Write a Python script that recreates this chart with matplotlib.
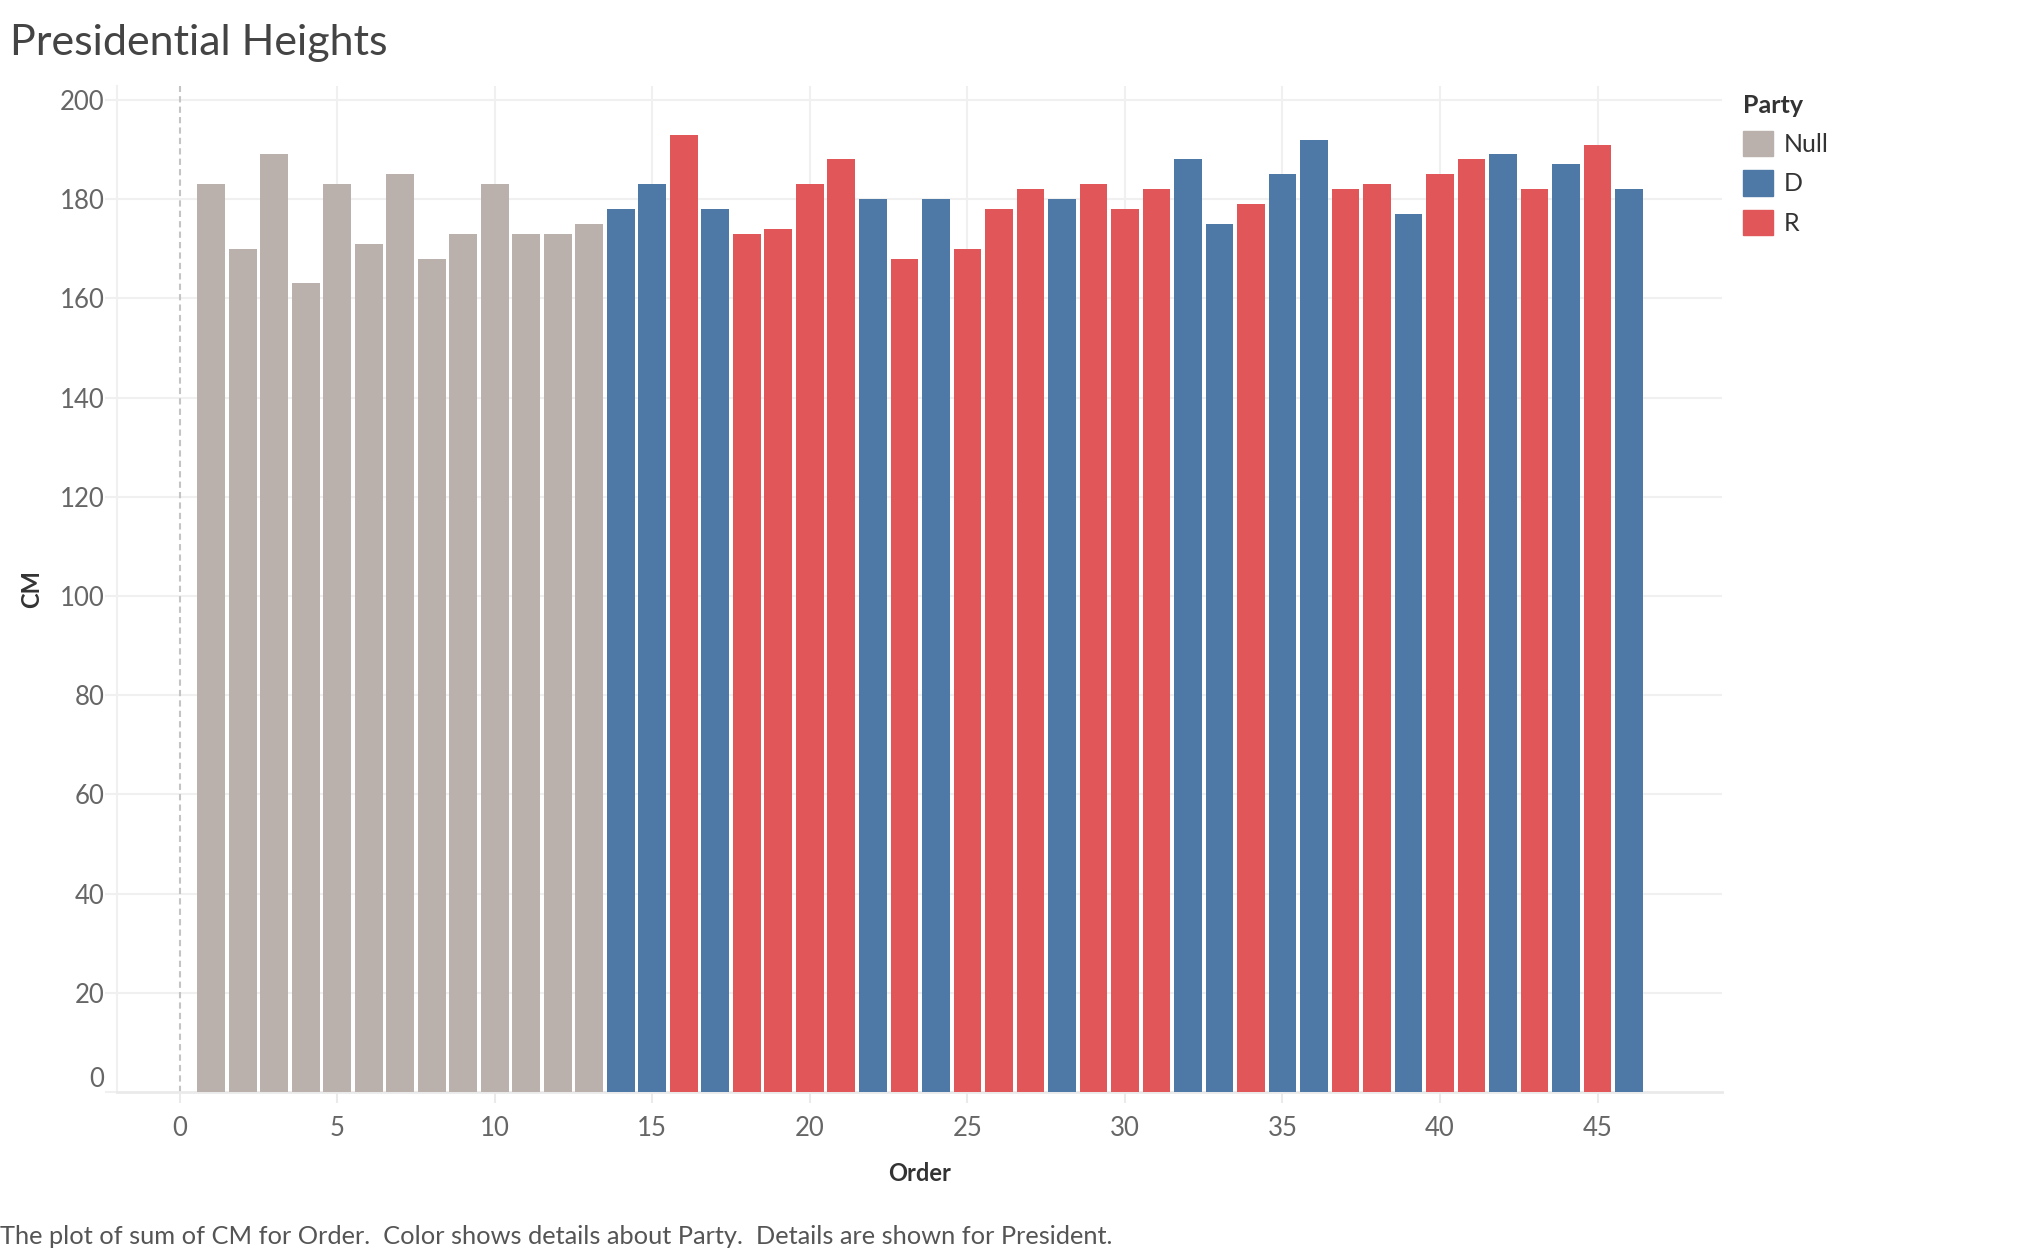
import matplotlib.pyplot as plt
from matplotlib.patches import Patch

plt.rcParams['font.family'] = ['Lato', 'DejaVu Sans']

order = list(range(1, 47))
cm = [183, 170, 189, 163, 183, 171, 185, 168, 173, 183, 173, 173, 175,
      178, 183, 193, 178, 173, 174, 183, 188, 180, 168, 180, 170, 178,
      182, 180, 183, 178, 182, 188, 175, 179, 185, 192, 182, 183, 177,
      185, 188, 189, 182, 187, 191, 182]
party = ['Null'] * 13 + ['D', 'D', 'R', 'D', 'R', 'R', 'R', 'R', 'D', 'R',
                         'D', 'R', 'R', 'R', 'D', 'R', 'R', 'R', 'D', 'D',
                         'R', 'D', 'D', 'R', 'R', 'D', 'R', 'R', 'D', 'R',
                         'D', 'R', 'D']
party_names = ['Null', 'D', 'R']
party_colors = {'Null': '#bab0ac', 'D': '#4e79a7', 'R': '#e15759'}

fig = plt.figure(figsize=(20.22, 12.52), dpi=100)
ax = fig.add_axes([117/2022, 1-1092/1252, (1722-117)/2022, (1092-86)/1252])

ax.bar(order, cm, width=0.88, color=[party_colors[p] for p in party], zorder=3)

ax.set_xlim(-1.99, 48.95)
ax.set_ylim(0, 202.8)
ax.set_xticks(range(0, 50, 5))
ax.set_yticks(range(0, 201, 20))

# grid
for x in range(5, 50, 5):
    ax.axvline(x, color='#f0f0f0', lw=1.5, zorder=1)
for y in range(20, 201, 20):
    ax.axhline(y, color='#f0f0f0', lw=1.5, zorder=1)
ax.axvline(0, color='#c4c4c4', lw=1.5, ls=(0, (3, 2)), zorder=2)

for s in ['top', 'right']:
    ax.spines[s].set_visible(False)
ax.spines['left'].set_color('#f0f0f0')
ax.spines['left'].set_linewidth(1.5)
ax.spines['bottom'].set_color('#eaeaea')
ax.spines['bottom'].set_linewidth(2)

ax.tick_params(axis='x', colors='#eaeaea', labelcolor='#666666', labelsize=18.5,
               length=8, width=1.5, pad=9)
ax.tick_params(axis='y', colors='#f0f0f0', labelcolor='#666666', labelsize=18.5,
               length=9, width=1.5, pad=0)
ax.get_yticklabels()[0].set_verticalalignment('bottom')

ax.set_xlabel('Order', fontsize=17, fontweight='bold', color='#333333')
ax.xaxis.set_label_coords(0.5, -0.081)
ax.xaxis.label.set_verticalalignment('center')
ax.set_ylabel('CM', fontsize=17, fontweight='bold', color='#333333')
ax.yaxis.set_label_coords(-0.053, 0.5)
ax.yaxis.label.set_verticalalignment('center')

fig.text(10/2022, 1-43/1252, 'Presidential Heights', fontsize=31,
         color='#444444', va='center')
fig.text(0, 1-1237/1252,
         'The plot of sum of CM for Order.  Color shows details about Party.  '
         'Details are shown for President.',
         fontsize=18.3, color='#555555', va='center')

handles = [Patch(color=party_colors[p], label=p) for p in party_names]
leg = ax.legend(handles=handles, title='Party', loc='upper left',
                bbox_to_anchor=(1743/2022, 1-94/1252), bbox_transform=fig.transFigure,
                frameon=False, fontsize=18, handlelength=1.2, handleheight=1.2,
                handletextpad=0.45, labelspacing=0.55, borderpad=0,
                borderaxespad=0, alignment='left',
                title_fontproperties={'weight': 'bold', 'size': 18})
leg.get_title().set_color('#333333')
for t in leg.get_texts():
    t.set_color('#333333')

fig.savefig('out.png', dpi=100)
